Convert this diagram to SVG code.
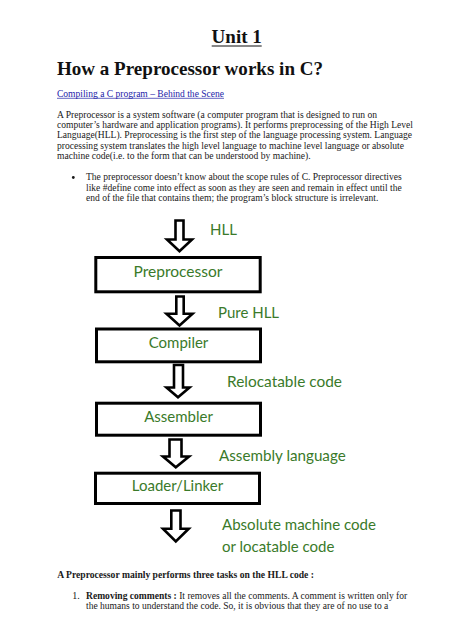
<svg xmlns="http://www.w3.org/2000/svg" width="474" height="632" viewBox="0 0 474 632">
<style>
.body{font-family:"Liberation Serif","Times New Roman",serif;font-size:10px;fill:#1a1a1a}
.b{font-weight:bold}
.lbl{font-family:Lato,"Open Sans",sans-serif;font-size:15px;fill:#3a7a2a}
.box{fill:#fff;stroke:#000;stroke-width:3}
.arr{fill:#fff;stroke:#000;stroke-width:2.6;stroke-linejoin:miter}
</style>
<rect width="474" height="632" fill="#fff"/>
<g id="header">
<text x="236.7" y="43.3" text-anchor="middle" font-family="Liberation Serif,serif" font-weight="bold" font-size="19" fill="#111">Unit 1</text>
<line x1="211.7" y1="46" x2="261.7" y2="46" stroke="#111" stroke-width="1.2"/>
<text x="57" y="75" font-family="Liberation Serif,serif" font-weight="bold" font-size="19" fill="#111" textLength="266" lengthAdjust="spacingAndGlyphs">How a Preprocessor works in C?</text>
<text x="57" y="96.7" font-family="Liberation Serif,serif" font-size="10" fill="#2323a8" textLength="167" lengthAdjust="spacingAndGlyphs">Compiling a C program – Behind the Scene</text>
<line x1="57" y1="98.3" x2="224" y2="98.3" stroke="#2323a8" stroke-width="0.7"/>
</g>
<g id="intro">
<text class="body" x="57" y="117.5" textLength="320" lengthAdjust="spacingAndGlyphs">A Preprocessor is a system software (a computer program that is designed to run on</text>
<text class="body" x="57" y="127.8" textLength="356" lengthAdjust="spacingAndGlyphs">computer’s hardware and application programs).  It performs preprocessing of the High Level</text>
<text class="body" x="57" y="138.2" textLength="355" lengthAdjust="spacingAndGlyphs">Language(HLL). Preprocessing is the first step of the language processing system. Language</text>
<text class="body" x="57" y="148.5" textLength="347" lengthAdjust="spacingAndGlyphs">processing system translates the high level language to machine level language or absolute</text>
<text class="body" x="57" y="158.7" textLength="253.7" lengthAdjust="spacingAndGlyphs">machine code(i.e. to the form that can be understood by machine).</text>
<circle cx="73.3" cy="177.5" r="1.4" fill="#1a1a1a"/>
<text class="body" x="86" y="180.3" textLength="315.7" lengthAdjust="spacingAndGlyphs">The preprocessor doesn’t know about the scope rules of C.  Preprocessor directives</text>
<text class="body" x="86" y="190.7" textLength="315.7" lengthAdjust="spacingAndGlyphs">like #define come into effect as soon as they are seen and remain in effect until the</text>
<text class="body" x="86" y="200.8" textLength="292.3" lengthAdjust="spacingAndGlyphs">end of the file that contains them; the program’s block structure is irrelevant.</text>
</g>
<g id="connectors">
<path class="arr" d="M175.5,220.5 H183.5 V239.5 H192 L179.5,251.3 L167,239.5 H175.5 Z"/>
<path class="arr" d="M176.3,296.5 H183.7 V313.8 H192.5 L179.5,325.5 L166.5,313.8 H176.3 Z"/>
<path class="arr" d="M174,365 H183 V387.5 H189.5 L178,397.3 L166.5,387.5 H174 Z"/>
<path class="arr" d="M169.5,439.5 H181.5 V456.5 H189 L175.8,467.2 L163,456.5 H169.5 Z"/>
<path class="arr" d="M171.3,510.5 H180.5 V528.8 H188.7 L175.8,541.4 L163,528.8 H171.3 Z"/>
<text class="lbl" x="210" y="235">HLL</text>
<text class="lbl" x="218" y="318">Pure HLL</text>
<text class="lbl" x="227" y="387" textLength="115" lengthAdjust="spacingAndGlyphs">Relocatable code</text>
<text class="lbl" x="219" y="461" textLength="126.7" lengthAdjust="spacingAndGlyphs">Assembly language</text>
<text class="lbl" x="222" y="530" textLength="154" lengthAdjust="spacingAndGlyphs">Absolute machine code</text>
<text class="lbl" x="222" y="551.7">or locatable code</text>
</g>
<g id="preprocessor">
<rect class="box" x="95.8" y="257.5" width="164.4" height="34.3"/>
<text class="lbl" x="178" y="276.7" text-anchor="middle" textLength="89" lengthAdjust="spacingAndGlyphs">Preprocessor</text>
</g>
<g id="compiler">
<rect class="box" x="96.5" y="329" width="164" height="32.8"/>
<text class="lbl" x="178.5" y="348.3" text-anchor="middle">Compiler</text>
</g>
<g id="assembler">
<rect class="box" x="96.5" y="403.2" width="164" height="32"/>
<text class="lbl" x="178.5" y="421.7" text-anchor="middle">Assembler</text>
</g>
<g id="loader">
<rect class="box" x="95.5" y="473.2" width="164" height="30.3"/>
<text class="lbl" x="177.5" y="490.7" text-anchor="middle">Loader/Linker</text>
</g>
<g id="tasks">
<text class="body b" x="57.3" y="578.3" textLength="256.7" lengthAdjust="spacingAndGlyphs">A Preprocessor mainly performs three tasks on the HLL code :</text>
<text class="body" x="72.3" y="598.6">1.</text>
<text class="body" x="86" y="598.6" textLength="321.3" lengthAdjust="spacingAndGlyphs"><tspan class="b">Removing comments :</tspan> It removes all the comments. A comment is written only for</text>
<text class="body" x="86" y="608.6" textLength="302.3" lengthAdjust="spacingAndGlyphs">the humans to understand the code. So, it is obvious that they are of no use to a</text>
</g>
</svg>
